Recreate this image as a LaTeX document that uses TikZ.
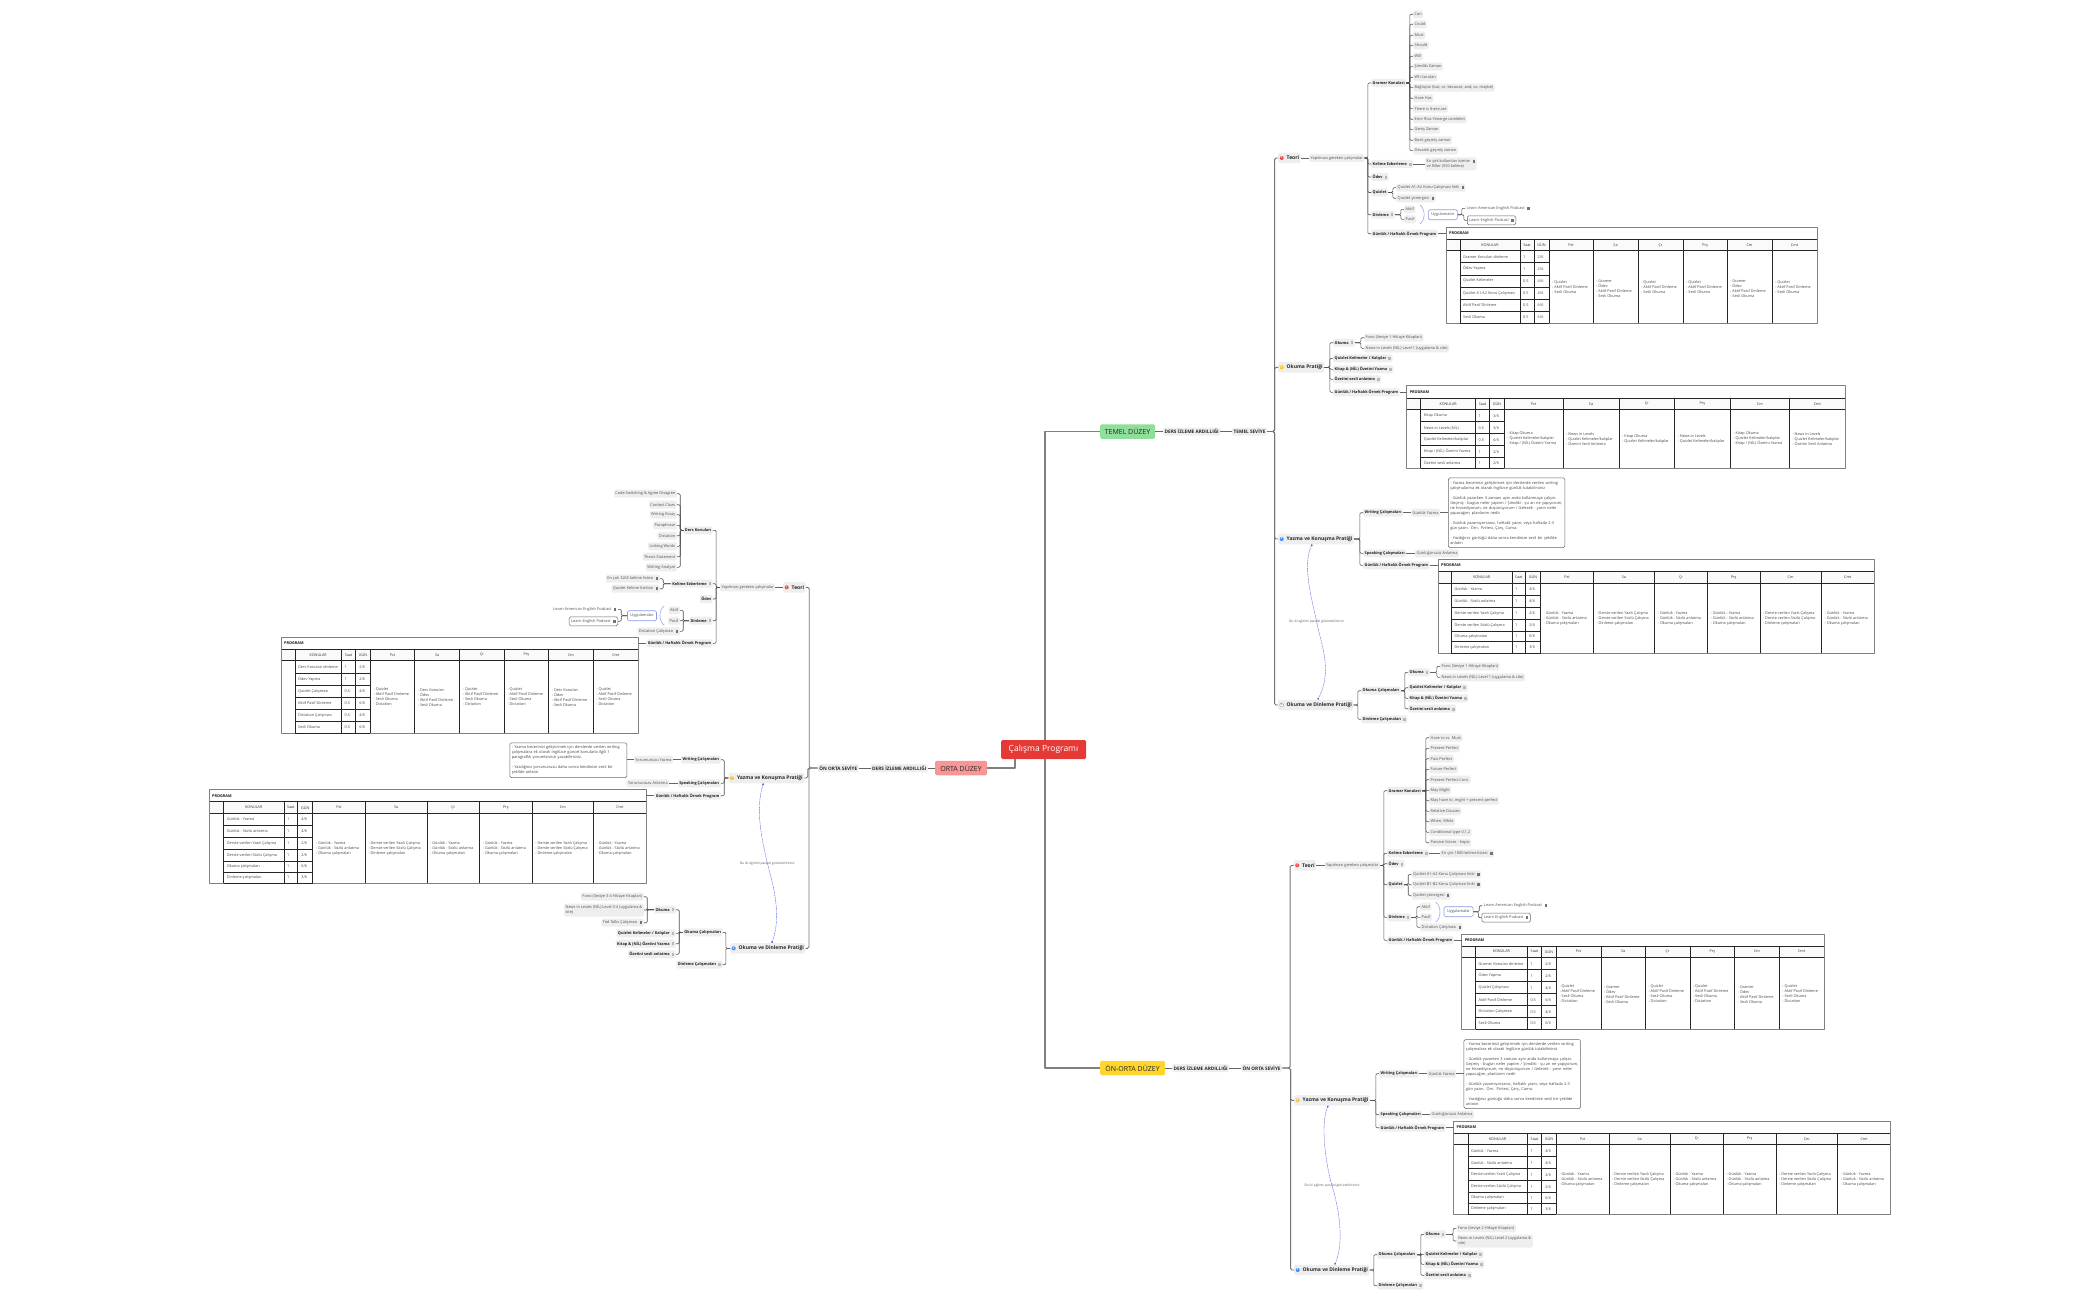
\documentclass[tikz,border=0pt]{standalone}
\usepackage{fontspec}
\setmainfont{Open Sans}
\usetikzlibrary{arrows.meta}
\definecolor{pillgray}{HTML}{EEEEEE}
\definecolor{icored}{HTML}{F04A4A}
\definecolor{icoyellow}{HTML}{FFC02E}
\definecolor{icoblue}{HTML}{3D8BFF}
\definecolor{relblue}{HTML}{4A5BD4}
\definecolor{appblue}{HTML}{8C9BE6}
\definecolor{rootred}{HTML}{E53935}
\definecolor{levgreen}{HTML}{8FDF9A}
\definecolor{levyellow}{HTML}{FFD52E}
\definecolor{levpink}{HTML}{F89696}
\begin{document}
\begin{tikzpicture}[x=1pt,y=-1pt,line join=round,
	leaf/.style={fill=pillgray,rounded corners=1.5pt,text=black!68,inner xsep=1.5pt,inner ysep=0pt,minimum height=8pt,font=\fontsize{3.9}{5}\selectfont},
	head/.style={leaf,text=black!88,font=\fontsize{3.85}{5}\selectfont\bfseries},
	topic/.style={leaf,text=black!85,minimum height=10.5pt,font=\fontsize{5}{6}\selectfont\bfseries,execute at begin node={\hspace*{7pt}}},
	seq/.style={leaf,text=black!85,font=\fontsize{4.7}{5}\selectfont\bfseries},
	level/.style={rounded corners=1.5pt,minimum height=14.5pt,inner sep=0pt,text=black!85,font=\fontsize{7}{8}\selectfont},
	ico/.style={circle,inner sep=0pt,minimum size=4pt,text=white,font=\fontsize{2.6}{3}\selectfont\bfseries},
	app/.style={leaf,fill=white,draw=appblue,line width=.6pt,minimum height=10pt,inner xsep=3pt},
	appb/.style={leaf,fill=white,draw=black!60,line width=.5pt,minimum height=9pt,inner xsep=2pt},
	bare/.style={leaf,fill=none},
	notebox/.style={draw=black!60,fill=white,line width=.5pt,rounded corners=1.5pt,align=left,inner sep=2pt,anchor=north west,text=black!72,font=\fontsize{3.9}{5}\selectfont},
	major/.style={line width=1.2pt,black!50},
	sub/.style={line width=.9pt,black!55,rounded corners=1.5pt},
	bran/.style={line width=.6pt,black!68,rounded corners=1.2pt},
	short/.style={line width=.5pt,black!60},
	sumline/.style={line width=.5pt,appblue},
	rel/.style={line width=.4pt,relblue,dash pattern=on 1pt off .6pt,{Circle[length=1.8pt]}-{Circle[length=1.8pt]}},
	rellabel/.style={inner sep=0pt,text=black!65,font=\fontsize{3.3}{4}\selectfont},
	tbout/.style={line width=.9pt,black!50},
	tbin/.style={line width=.55pt,black!85},
	tbrow/.style={line width=.75pt,black!85},
	tcell/.style={inner sep=0pt,text=black!72,font=\fontsize{3.8}{5}\selectfont},
	thead/.style={inner sep=0pt,text=black!80,font=\fontsize{3.7}{5}\selectfont},
	ttitle/.style={inner sep=0pt,text=black!90,font=\fontsize{3.8}{5}\selectfont\bfseries}]
	\useasboundingbox (0,0) rectangle (2100,1300);
	\def\noteic{\hspace*{2pt}\textcolor{black!28}{\rule[-.2pt]{2.6pt}{3pt}}}
	\def\linkic{\hspace*{2.5pt}\textcolor{black!55}{\rule[-.2pt]{2.4pt}{2.8pt}}}
	\def\brR#1#2{\foreach \kid in {#2} \draw[bran] (\kid.west) -- ++(-3.2,0) |- (#1.east);}
	\def\brL#1#2{\foreach \kid in {#2} \draw[bran] (\kid.east) -- ++(3.2,0) |- (#1.west);}
	\def\subR#1#2{\foreach \kid in {#2} \draw[sub] (\kid.west) -- ++(-3.4,0) |- (#1.east);}
	\def\subL#1#2{\foreach \kid in {#2} \draw[sub] (\kid.east) -- ++(3.4,0) |- (#1.west);}
	% tablo: ad, geometri, satirlar, 6 gun
	\def\progtable#1#2#3#4#5#6#7#8#9{
	\foreach \xa/\xb/\xc/\xd/\xe/\xf/\xg/\xh/\xi/\xj/\xk/\ya/\yb/\yc/\yd in {#2}{
		\fill[white] (\xa,\ya) rectangle (\xk,\yd);
		\fill[black!2] (\xa,\yb) rectangle (\xk,\yc);
		\draw[tbin] (\xa,\yb)--(\xk,\yb) (\xa,\yc)--(\xk,\yc);
		\foreach \v in {\xb,\xc,\xd,\xe,\xf,\xg,\xh,\xi,\xj} \draw[tbin] (\v,\yb)--(\v,\yd);
		\draw[tbout] (\xa,\ya) rectangle (\xk,\yd);
		\coordinate (#1L) at (\xa,\ya);
		\coordinate (#1R) at (\xk,\ya);
		\node[ttitle,anchor=west] (#1title) at (\xa+3,{(\ya+\yb)/2}) {PROGRAM};
		\node[thead] (#1kon) at ({(\xb+\xc)/2},{(\yb+\yc)/2}) {KONULAR};
		\node[thead] (#1saat) at ({(\xc+\xd)/2},{(\yb+\yc)/2}) {Saat};
		\node[thead] (#1gun) at ({(\xd+\xe)/2},{(\yb+\yc)/2}) {GÜN};
		\foreach \ry/\rb/\rn/\rs/\rg [count=\ri] in {#3}{
			\draw[tbrow] (\xb,\rb)--(\xe,\rb);
			\node[tcell,anchor=west] (#1n\ri) at (\xb+3,\ry) {\rn};
			\node[tcell,anchor=west] (#1s\ri) at (\xc+3,\ry) {\rs};
			\node[tcell,anchor=west] (#1g\ri) at (\xd+3.5,\ry) {\rg};
		}
		\foreach \dl/\dr/\dn/\dt [count=\di] in {\xe/\xf/Pzt/{#4},\xf/\xg/Sa/{#5},\xg/\xh/Çr/{#6},\xh/\xi/Prş/{#7},\xi/\xj/Cm/{#8},\xj/\xk/Cmt/{#9}}{
			\node[thead] (#1h\di) at ({(\dl+\dr)/2},{(\yb+\yc)/2}) {\dn};
			\node[tcell,align=left,anchor=west] (#1d\di) at (\dl+3,{(\yc+\yd)/2}) {\dt};
		}
	}}
	\def\qzA{- Quizlet\\- Aktif Pasif Dinleme\\- Sesli Okuma}
	\def\grA{\mbox{}\\- Gramer\\- Ödev\\- Aktif Pasif Dinleme\\- Sesli Okuma}
	\def\qzB{- Quizlet\\- Aktif Pasif Dinleme\\- Sesli Okuma\\- Dictation}
	\def\grB{\mbox{}\\- Ders Konuları\\- Ödev\\- Aktif Pasif Dinleme\\- Sesli Okuma}
	\def\kiA{- Kitap Okuma\\- Quizlet Kelimeler/kalıplar\\- Kitap / (NİL) Özetini Yazma}
	\def\neA{- News in Levels\\- Quizlet Kelimeler/kalıplar\\- Özetini Sesli Anlatma}
	\def\kiB{- Kitap Okuma\\- Quizlet Kelimeler/kalıplar}
	\def\neB{- News in Levels\\- Quizlet Kelimeler/kalıplar}
	\def\guA{- Günlük - Yazma\\- Günlük - Sözlü anlatma\\- Okuma çalışmaları}
	\def\deA{- Derste verilen Yazılı Çalışma\\- Derste verilen Sözlü Çalışma\\- Dinleme çalışmaları}
	% merkez
	\node[level,fill=rootred,text=white,minimum width=85pt,minimum height=19pt,font=\fontsize{8.5}{9}\selectfont] (root) at (1043.5,749.5) {Çalışma Programı};
	\node[level,fill=levgreen,minimum width=55pt] (temel) at (1127.5,431.5) {TEMEL DÜZEY};
	\node[level,fill=levyellow,minimum width=65pt] (onorta) at (1132.5,1068) {ÖN-ORTA DÜZEY};
	\node[level,fill=levpink,minimum width=52pt] (orta) at (961,768) {ORTA DÜZEY};
	\draw[major] ([xshift=1.5pt]root.north) |- (temel.west);
	\draw[major] ([xshift=1.5pt]root.south) |- (onorta.west);
	\draw[major] ([xshift=-28.5pt]root.south) |- (orta.east);
	\node[seq,anchor=west] (tDers) at (1163,431.5) {DERS İZLEME ARDILLIĞI};
	\node[seq,anchor=west] (tSev) at (1232,431.5) {TEMEL SEVİYE};
	\draw[short] (temel)--(tDers) (tDers)--(tSev);
	\node[seq,anchor=west] (oDers) at (1172,1068) {DERS İZLEME ARDILLIĞI};
	\node[seq,anchor=west] (oSev) at (1241,1068) {ÖN ORTA SEVİYE};
	\draw[short] (onorta)--(oDers) (oDers)--(oSev);
	\node[seq,anchor=east] (mDers) at (928,768) {DERS İZLEME ARDILLIĞI};
	\node[seq,anchor=east] (mSev) at (859,768) {ÖN ORTA SEVİYE};
	\draw[short] (orta)--(mDers) (mDers)--(mSev);

	% TEMEL - Teori
	\foreach \n/\y/\tx/\fc/\num in {tTeori/158/Teori/icored/1,tOku/367.3/Okuma Pratiği/icoyellow/2,tYaz/539/Yazma ve Konuşma Pratiği/icoblue/3}{
		\node[topic,anchor=west] (\n) at (1278,\y) {\tx};
		\node[ico,fill=\fc] (\n I) at ([xshift=3.7pt]\n.west) {\num};
	}
	\node[topic,anchor=west] (tDin) at (1278,705) {Okuma ve Dinleme Pratiği};
	\node[ico,fill=white,draw=black!45,line width=.3pt,text=black!45] (tDinI) at ([xshift=3.7pt]tDin.west) {4};
	\subR{tSev}{tTeori,tOku,tYaz,tDin}
	\node[leaf,anchor=west] (tYap) at (1309,158) {Yapılması gereken çalışmalar};
	\draw[short] (tTeori)--(tYap);
	\foreach \n/\y/\tx in {tGr/83/Gramer Konuları,tKe/164/Kelime Ezberleme\noteic,tOd/177/Ödev\noteic,tQu/192.5/Quizlet,tDi/214.7/Dinleme\noteic,tGu/233.7/{Günlük / Haftalık Örnek Program}}
		\node[head,anchor=west] (\n) at (1371,\y) {\tx};
	\brR{tYap}{tGr,tKe,tOd,tQu,tDi,tGu}
	\foreach \n/\y/\tx in {g1/14.3/Can,g2/24.3/Could,g3/35.3/Must,g4/45.3/Should,g5/56.3/Will,g6/66.7/Şimdiki Zaman,g7/77.3/Wh Soruları,g8/87.7/{Bağlaçlar (but, or, because, and, so, maybe)},g9/98.3/Have Has,g10/108.7/There is there are,g11/119.3/Emir Rica Yönerge cümleleri,g12/129.7/Geniş Zaman,g13/140.3/Basit geçmiş zaman,g14/150.7/Devamlı geçmiş zaman}
		\node[leaf,anchor=west] (\n) at (1413,\y) {\tx};
	\brR{tGr}{g1,g2,g3,g4,g5,g6,g7,g8,g9,g10,g11,g12,g13,g14}
	\node[leaf,anchor=west,align=left,minimum height=13pt] (tKe1) at (1425,164) {En çok kullanılan isimler\linkic\\ve fiiller (550 kelime)};
	\draw[short] (tKe)--(tKe1);
	\node[leaf,anchor=west] (tQu1) at (1396,187.7) {Quizlet A1-A2 Konu Çalışması linki\linkic};
	\node[leaf,anchor=west] (tQu2) at (1396,198.3) {Quizlet yönergesi\linkic};
	\brR{tQu}{tQu1,tQu2}
	\node[leaf,anchor=west] (tDi1) at (1404,209.3) {Aktif};
	\node[leaf,anchor=west] (tDi2) at (1404,219.3) {Pasif};
	\brR{tDi}{tDi1,tDi2}
	\coordinate (tPa) at (1420,205); \coordinate (tPb) at (1420,224);
	\draw[sumline] (tPa) .. controls (1425.5,209) and (1425.5,220) .. (tPb);
	\node[app,anchor=west] (tUy) at (1428,214.7) {Uygulamalar};
	\node[bare,anchor=west] (tUy1) at (1465,208.3) {Learn American English Podcast\linkic};
	\node[appb,anchor=west] (tUy2) at (1467,220.3) {Learn English Podcast\linkic};
	\brR{tUy}{tUy1,tUy2}
	\progtable{ta}{1446/1460/1520/1534/1549/1593/1638/1683/1727/1772/1817/227/239.7/250.7/323.5}
	{256.7/262.7/Gramer Konuları dinleme/1/{2/6},268.7/275/Ödev Yapma/1/{2/6},280.7/287/Quizlet Kelimeler/0.5/{4/6},293.3/299.3/Quizlet A1-A2 Konu Çalışması/0.5/{4/6},305.3/311.3/Aktif Pasif Dinleme/0.5/{6/6},317.3/323.5/Sesli Okuma/0.5/{6/6}}
	{\qzA}{\grA}{\qzA}{\qzA}{\grA}{\qzA}
	\draw[short] (tGu)--(tGu -| taL);

	% TEMEL - Okuma
	\foreach \n/\y/\tx in {tOk/342.7/Okuma\noteic,tOq/358.3/{Quizlet Kelimeler / Kalıplar\noteic},tOi/369.3/Kitap \& (NİL) Özetini Yazma\noteic,tOz/379.3/Özetini sesli anlatma\noteic,tOg/392.3/{Günlük / Haftalık Örnek Program}}
		\node[head,anchor=west] (\n) at (1333,\y) {\tx};
	\brR{tOku}{tOk,tOq,tOi,tOz,tOg}
	\node[leaf,anchor=west] (tOk1) at (1364,337.7) {Fono (Seviye 1 Hikaye Kitapları)};
	\node[leaf,anchor=west] (tOk2) at (1364,348.3) {News in Levels (NİL) Level 1 (uygulama \& site)};
	\brR{tOk}{tOk1,tOk2}
	\progtable{tb}{1406.6/1420.7/1475.5/1489.6/1504.2/1563/1619/1674.5/1730.3/1789.3/1845.5/385.7/398.3/409.3/468.3}
	{415.7/421.3/Kitap Okuma/1/{3/6},427.7/433.3/News in Levels (NİL)/0.5/{3/6},439.7/445.3/{Quizlet Kelimeler/kalıplar}/0.5/{6/6},451.7/457.3/{Kitap / (NİL) Özetini Yazma}/1/{2/6},462.7/468.3/Özetini sesli anlatma/1/{2/6}}
	{\kiA}{\neA}{\kiB}{\neB}{\kiA}{\neA}
	\draw[short] (tOg)--(tOg -| tbL);

	% TEMEL - Yazma
	\node[head,anchor=west] (tWr) at (1363,512.7) {Writing Çalışmaları};
	\node[head,anchor=west] (tSp) at (1363,553.3) {Speaking Çalışmaları};
	\node[head,anchor=west] (tYg) at (1363,565.3) {Günlük / Haftalık Örnek Program};
	\brR{tYaz}{tWr,tSp,tYg}
	\node[leaf,anchor=west] (tWr1) at (1411,512.7) {Günlük Yazma};
	\node[notebox,text width=112.6pt,minimum height=69.6pt] (tWr2) at (1448,477.7) {- Yazma becerinizi geliştirmek için derslerde verilen writing\\çalışmalarına ek olarak İngilizce günlük tutabilirsiniz\\[5pt]- Günlük yazarken 3 zamanı aynı anda kullanmaya çalışın.\\Geçmiş - bugün neler yaptım / Şimdiki - şu an ne yapıyorum,\\ne hissediyorum, ne düşünüyorum / Gelecek - yarın neler\\yapacağım, planlarım nedir\\[5pt]- Günlük yazamıyorsanız, haftalık yazın, veya haftada 2-3\\gün yazın. Örn. Pzrtesi, Çarş, Cuma.\\[5pt]- Yazdığınız günlüğü daha sonra kendinize sesli bir şekilde\\anlatın};
	\draw[short] (tWr)--(tWr1) (tWr1)--(tWr2.west |- tWr1);
	\node[leaf,anchor=west] (tSp1) at (1415,553.3) {Günlüğünüzü Anlatma};
	\draw[short] (tSp)--(tSp1);
	\progtable{tc}{1438/1451.4/1511.8/1525.6/1540.5/1593.3/1654.6/1707.4/1759.8/1821.4/1874/559.3/571.3/583.3/653.3}
	{589.3/595.3/Günlük - Yazma/1/{4/6},601.3/607.3/Günlük - Sözlü anlatma/1/{4/6},613.3/619.3/Derste verilen Yazılı Çalışma/1/{2/6},625.3/631/Derste verilen Sözlü Çalışma/1/{2/6},636.3/641.7/Okuma çalışmaları/1/{6/6},647.3/653.3/Dinleme çalışmaları/1/{3/6}}
	{\guA}{\deA}{\guA}{\guA}{\deA}{\guA}
	\draw[short] (tYg)--(tYg -| tcL);

	% TEMEL - Okuma ve Dinleme
	\node[head,anchor=west] (tDo) at (1361,690.7) {Okuma Çalışmaları};
	\node[head,anchor=west] (tDd) at (1361,719.3) {Dinleme Çalışmaları\noteic};
	\brR{tDin}{tDo,tDd}
	\foreach \n/\y/\tx in {tDk/672.3/Okuma\noteic,tDq/687.7/{Quizlet Kelimeler / Kalıplar\noteic},tDi3/698.3/Kitap \& (NİL) Özetini Yazma\noteic,tDz/708.7/Özetini sesli anlatma\noteic}
		\node[head,anchor=west] (\n) at (1408,\y) {\tx};
	\brR{tDo}{tDk,tDq,tDi3,tDz}
	\node[leaf,anchor=west] (tDk1) at (1440,666.3) {Fono (Seviye 1 Hikaye Kitapları)};
	\node[leaf,anchor=west] (tDk2) at (1440,677.3) {News in Levels (NİL) Level 1 (uygulama \& site)};
	\brR{tDk}{tDk1,tDk2}
	\node[rellabel] (tRel) at (1316.6,621.7) {Bu iki eğitimi paralel götürebilirsiniz};
	\draw[rel] ([xshift=-4pt]tYaz.south) .. controls (1302,565) and (1312,600) .. (1316.7,621.7) .. controls (1321,645) and (1333,670) .. ([xshift=2pt]tDin.north);

	% ON-ORTA
	\foreach \n/\y/\tx/\fc/\num/\xp in {oTeori/865.3/Teori/icored/1/1293.5,oYaz/1100.3/Yazma ve Konuşma Pratiği/icoyellow/2/1294,oDin/1270/Okuma ve Dinleme Pratiği/icoblue/3/1294}{
		\node[topic,anchor=west] (\n) at (\xp,\y) {\tx};
		\node[ico,fill=\fc] (\n I) at ([xshift=3.7pt]\n.west) {\num};
	}
	\subR{oSev}{oTeori,oYaz,oDin}
	\node[leaf,anchor=west] (oYap) at (1324.5,865.3) {Yapılması gereken çalışmalar};
	\draw[short] (oTeori)--(oYap);
	\foreach \n/\y/\tx in {oGr/790.7/Gramer Konuları,oKe/853.3/Kelime Ezberleme\noteic,oOd/863.7/Ödev\noteic,oQu/884.7/Quizlet,oDi/917.3/Dinleme\noteic,oGu/940.3/{Günlük / Haftalık Örnek Program}}
		\node[head,anchor=west] (\n) at (1387,\y) {\tx};
	\brR{oYap}{oGr,oKe,oOd,oQu,oDi,oGu}
	\foreach \n/\y/\tx in {h1/737.7/Have to vs. Must,h2/748.3/Present Perfect,h3/758.7/Past Perfect,h4/769.3/Future Perfect,h5/779.7/Present Perfect Cont.,h6/790.3/May Might,h7/800.7/{May have to, might + present perfect},h8/811.3/Relative Clauses,h9/821.7/{When, While},h10/832.3/{Conditional type 0,1,2},h11/842.7/Passive Voices - hepsi}
		\node[leaf,anchor=west] (\n) at (1429,\y) {\tx};
	\brR{oGr}{h1,h2,h3,h4,h5,h6,h7,h8,h9,h10,h11}
	\node[leaf,anchor=west] (oKe1) at (1440,853.3) {En çok 1800 kelime listesi\linkic};
	\draw[short] (oKe)--(oKe1);
	\node[leaf,anchor=west] (oQu1) at (1411.4,874.3) {Quizlet A1-A2 Konu Çalışması linki\linkic};
	\node[leaf,anchor=west] (oQu2) at (1411.4,884.7) {Quizlet B1-B2 Konu Çalışması linki\linkic};
	\node[leaf,anchor=west] (oQu3) at (1411.4,895.7) {Quizlet yönergesi\linkic};
	\brR{oQu}{oQu1,oQu2,oQu3}
	\node[leaf,anchor=west] (oDi1) at (1420,906.7) {Aktif};
	\node[leaf,anchor=west] (oDi2) at (1420,917.3) {Pasif};
	\node[leaf,anchor=west] (oDi3) at (1420,927.3) {Dictation Çalışması\linkic};
	\brR{oDi}{oDi1,oDi2,oDi3}
	\coordinate (oPa) at (1435.5,902); \coordinate (oPb) at (1435.5,922);
	\draw[sumline] (oPa) .. controls (1441.5,906) and (1441.5,918) .. (oPb);
	\node[app,anchor=west] (oUy) at (1443.7,911.7) {Uygulamalar};
	\node[bare,anchor=west] (oUy1) at (1482.4,905.7) {Learn American English Podcast\linkic};
	\node[appb,anchor=west] (oUy2) at (1481.6,917.7) {Learn English Podcast\linkic};
	\brR{oUy}{oUy1,oUy2}
	\progtable{oa}{1461.6/1475.5/1527.3/1541.6/1556.3/1600.8/1645.3/1689.8/1734.7/1779.2/1824/934/946/957/1029.3}
	{963.7/969.7/Gramer Konuları dinleme/1/{2/6},975.7/981.7/Ödev Yapma/1/{2/6},987.7/993.7/Quizlet Çalışması/1/{4/6},999.7/1005.7/Aktif Pasif Dinleme/0.5/{6/6},1011.7/1017.7/Dictation Çalışması/0.5/{4/6},1023.3/1029.3/Sesli Okuma/0.5/{6/6}}
	{\qzB}{\grA}{\qzB}{\qzB}{\grA}{\qzB}
	\draw[short] (oGu)--(oGu -| oaL);

	\node[head,anchor=west] (oWr) at (1379,1073.7) {Writing Çalışmaları};
	\node[head,anchor=west] (oSp) at (1379,1114.7) {Speaking Çalışmaları};
	\node[head,anchor=west] (oYg) at (1379,1127.7) {Günlük / Haftalık Örnek Program};
	\brR{oYaz}{oWr,oSp,oYg}
	\node[leaf,anchor=west] (oWr1) at (1427,1073.7) {Günlük Yazma};
	\node[notebox,text width=112.7pt,minimum height=69pt] (oWr2) at (1463.7,1039.3) {- Yazma becerinizi geliştirmek için derslerde verilen writing\\çalışmalara ek olarak İngilizce günlük tutabilirsiniz\\[5pt]- Günlük yazarken 3 zamanı aynı anda kullanmaya çalışın.\\Geçmiş - bugün neler yaptım / Şimdiki - şu an ne yapıyorum,\\ne hissediyorum, ne düşünüyorum / Gelecek - yarın neler\\yapacağım, planlarım nedir\\[5pt]- Günlük yazamıyorsanız, haftalık yazın, veya haftada 2-3\\gün yazın. Örn. Pzrtesi, Çarş, Cuma.\\[5pt]- Yazdığınız günlüğü daha sonra kendinize sesli bir şekilde\\anlatın};
	\draw[short] (oWr)--(oWr1) (oWr1)--(oWr2.west |- oWr1);
	\node[leaf,anchor=west] (oSp1) at (1430,1114.7) {Günlüğünüzü Anlatma};
	\draw[short] (oSp)--(oSp1);
	\progtable{ob}{1453.5/1467.8/1527.3/1541.6/1556.3/1609/1670.2/1723.3/1775.9/1837.6/1890.6/1121/1133.3/1144.3/1214.3}
	{1150.7/1156.7/Günlük - Yazma/1/{4/6},1162.7/1168.7/Günlük - Sözlü anlatma/1/{4/6},1174.7/1180.7/Derste verilen Yazılı Çalışma/1/{2/6},1186.7/1192.7/Derste verilen Sözlü Çalışma/1/{2/6},1197.7/1203/Okuma çalışmaları/1/{6/6},1208.7/1214.3/Dinleme çalışmaları/1/{3/6}}
	{\guA}{\deA}{\guA}{\guA}{\deA}{\guA}
	\draw[short] (oYg)--(oYg -| obL);

	\node[head,anchor=west] (oDo) at (1377,1254.7) {Okuma Çalışmaları};
	\node[head,anchor=west] (oDd) at (1377,1285.7) {Dinleme Çalışmaları\noteic};
	\brR{oDin}{oDo,oDd}
	\foreach \n/\y/\tx in {oDk/1234.3/Okuma\noteic,oDq/1254.3/{Quizlet Kelimeler / Kalıplar\noteic},oDi4/1264.3/Kitap \& (NİL) Özetini Yazma\noteic,oDz/1275.3/Özetini sesli anlatma\noteic}
		\node[head,anchor=west] (\n) at (1424,\y) {\tx};
	\brR{oDo}{oDk,oDq,oDi4,oDz}
	\node[leaf,anchor=west] (oDk1) at (1456.3,1228.3) {Fono (Seviye 2 Hikaye Kitapları)};
	\node[leaf,anchor=west,align=left,minimum height=13pt] (oDk2) at (1456.3,1241) {News in Levels (NİL) Level 2 (uygulama \&\\site)};
	\brR{oDk}{oDk1,oDk2}
	\node[rellabel] (oRel) at (1332,1185.7) {Bu iki eğitimi paralel götürebilirsiniz};
	\draw[rel] ([xshift=-4pt]oYaz.south) .. controls (1320,1125) and (1326,1165) .. (1332,1185.7) .. controls (1338,1205) and (1345,1240) .. ([xshift=3pt]oDin.north);

	% ORTA - Teori
	\foreach \n/\y/\tx/\fc/\num/\xp in {mTeori/587.3/Teori/icored/1/783,mYaz/778/Yazma ve Konuşma Pratiği/icoyellow/2/728.3,mDin/948.3/Okuma ve Dinleme Pratiği/icoblue/3/730}{
		\node[topic,anchor=west] (\n) at (\xp,\y) {\tx};
		\node[ico,fill=\fc] (\n I) at ([xshift=3.7pt]\n.west) {\num};
	}
	\subL{mSev}{mTeori,mYaz,mDin}
	\node[leaf,anchor=east] (mYap) at (775.4,587.3) {Yapılması gereken çalışmalar};
	\draw[short] (mTeori)--(mYap);
	\foreach \n/\y/\tx in {mDe/530.3/Ders Konuları,mKe/583.7/Kelime Ezberleme\noteic,mOd/599/Ödev,mDi/620.7/Dinleme\noteic,mGu/643.3/{Günlük / Haftalık Örnek Program}}
		\node[head,anchor=east] (\n) at (712.9,\y) {\tx};
	\brL{mYap}{mDe,mKe,mOd,mDi,mGu}
	\foreach \n/\y/\tx in {d1/493.7/Code Switching \& Agree Disagree,d2/504.7/Context Clues,d3/514.7/Writing Essay,d4/525.3/Paraphrase,d5/535.7/Dictation,d6/546.3/Linking Words,d7/556.7/Thesis Statement,d8/567.3/Writing Analyze}
		\node[leaf,anchor=east] (\n) at (677,\y) {\tx};
	\brL{mDe}{d1,d2,d3,d4,d5,d6,d7,d8}
	\node[leaf,anchor=east] (mKe1) at (660,578.7) {En çok 3265 kelime listesi\linkic};
	\node[leaf,anchor=east] (mKe2) at (660,588.7) {Quizlet Kelime Kartları\linkic};
	\brL{mKe}{mKe1,mKe2}
	\node[leaf,anchor=east] (mDi1) at (680,610.3) {Aktif};
	\node[leaf,anchor=east] (mDi2) at (680,620.7) {Pasif};
	\node[leaf,anchor=east] (mDi3) at (680,631.3) {Dictation Çalışması\linkic};
	\brL{mDi}{mDi1,mDi2,mDi3}
	\coordinate (mPa) at (664.3,606); \coordinate (mPb) at (664.3,625.3);
	\draw[sumline] (mPa) .. controls (658.5,610) and (658.5,621) .. (mPb);
	\node[app,anchor=east] (mUy) at (656.8,615.7) {Uygulamalar};
	\node[bare,anchor=east] (mUy1) at (618,609.3) {Learn American English Podcast\linkic};
	\node[appb,anchor=east] (mUy2) at (618,621.3) {Learn English Podcast\linkic};
	\brL{mUy}{mUy1,mUy2}
	\progtable{ma}{281/295/341.4/355.7/370.4/414.6/459.6/504.3/548.6/593.2/638.6/637.7/649.3/660.7/733.3}
	{667.3/673.3/Ders Konuları dinleme/1/{2/6},679.3/685.3/Ödev Yapma/1/{2/6},691.3/697.3/Quizlet Çalışması/0.5/{4/6},703.3/709.3/Aktif Pasif Dinleme/0.5/{6/6},715.3/721.3/Dictation Çalışması/0.5/{4/6},726.7/733.3/Sesli Okuma/0.5/{6/6}}
	{\qzB}{\grB}{\qzB}{\qzB}{\grB}{\qzB}
	\draw[short] (mGu)--(mGu -| maR);

	% ORTA - Yazma
	\node[head,anchor=east] (mWr) at (721,759.7) {Writing Çalışmaları};
	\node[head,anchor=east] (mSp) at (721,783.3) {Speaking Çalışmaları};
	\node[head,anchor=east] (mYg) at (721,795.7) {Günlük / Haftalık Örnek Program};
	\brL{mYaz}{mWr,mSp,mYg}
	\node[leaf,anchor=east] (mWr1) at (673.3,759.7) {Yorumunuzu Yazma};
	\node[notebox,text width=113pt,minimum height=34.6pt] (mWr2) at (509.6,742.7) {- Yazma becerinizi geliştirmek için derslerde verilen writing\\çalışmalara ek olarak İngilizce güncel konularla ilgili 1\\paragraflık yorumlarınızı yazabilirsiniz.\\[5pt]- Yazdığınız yorumunuzu daha sonra kendinize sesli bir\\şekilde anlatın};
	\draw[short] (mWr)--(mWr1) (mWr1)--(mWr2.east |- mWr1);
	\node[leaf,anchor=east] (mSp1) at (669.4,783.3) {Yorumunuzu Anlatma};
	\draw[short] (mSp)--(mSp1);
	\progtable{mb}{209/223.7/283.8/297.7/312.7/365.3/427/479.6/532.2/593.4/646.4/789.7/801.7/813.3/883}
	{819.3/825.3/Günlük - Yazma/1/{4/6},831.3/837.3/Günlük - Sözlü anlatma/1/{4/6},843.3/849.3/Derste verilen Yazılı Çalışma/1/{2/6},855.3/861/Derste verilen Sözlü Çalışma/1/{2/6},866.3/872/Okuma çalışmaları/1/{6/6},877.3/883/Dinleme çalışmaları/1/{3/6}}
	{\guA}{\deA}{\guA}{\guA}{\deA}{\guA}
	\draw[short] (mYg)--(mYg -| mbR);

	% ORTA - Okuma ve Dinleme
	\node[head,anchor=east] (mDo) at (722.7,932.3) {Okuma Çalışmaları};
	\node[head,anchor=east] (mDd) at (722.7,964.7) {Dinleme Çalışmaları\noteic};
	\brL{mDin}{mDo,mDd}
	\foreach \n/\y/\tx in {mDk/909.7/Okuma\noteic,mDq/933.3/{Quizlet Kelimeler / Kalıplar\noteic},mDi4/943.7/Kitap \& (NİL) Özetini Yazma\noteic,mDz/954.3/Özetini sesli anlatma\noteic}
		\node[head,anchor=east] (\n) at (676,\y) {\tx};
	\brL{mDo}{mDk,mDq,mDi4,mDz}
	\node[leaf,anchor=east] (mDk1) at (644,896.7) {Fono (Seviye 3-4 Hikaye Kitapları)};
	\node[leaf,anchor=east,align=left,minimum height=13pt] (mDk2) at (644,910) {News in Levels (NİL) Level 3-4 (uygulama \&\\site)};
	\node[leaf,anchor=east] (mDk3) at (644,922.7) {Ted Talks Çalışması\linkic};
	\brL{mDk}{mDk1,mDk2,mDk3}
	\node[rellabel] (mRel) at (767.4,863.3) {Bu iki eğitimi paralel götürebilirsiniz};
	\draw[rel] ([xshift=-3pt]mYaz.south) .. controls (755,810) and (762,840) .. (767.4,863.3) .. controls (773,885) and (782,915) .. ([xshift=4pt]mDin.north);
\end{tikzpicture}
\end{document}
